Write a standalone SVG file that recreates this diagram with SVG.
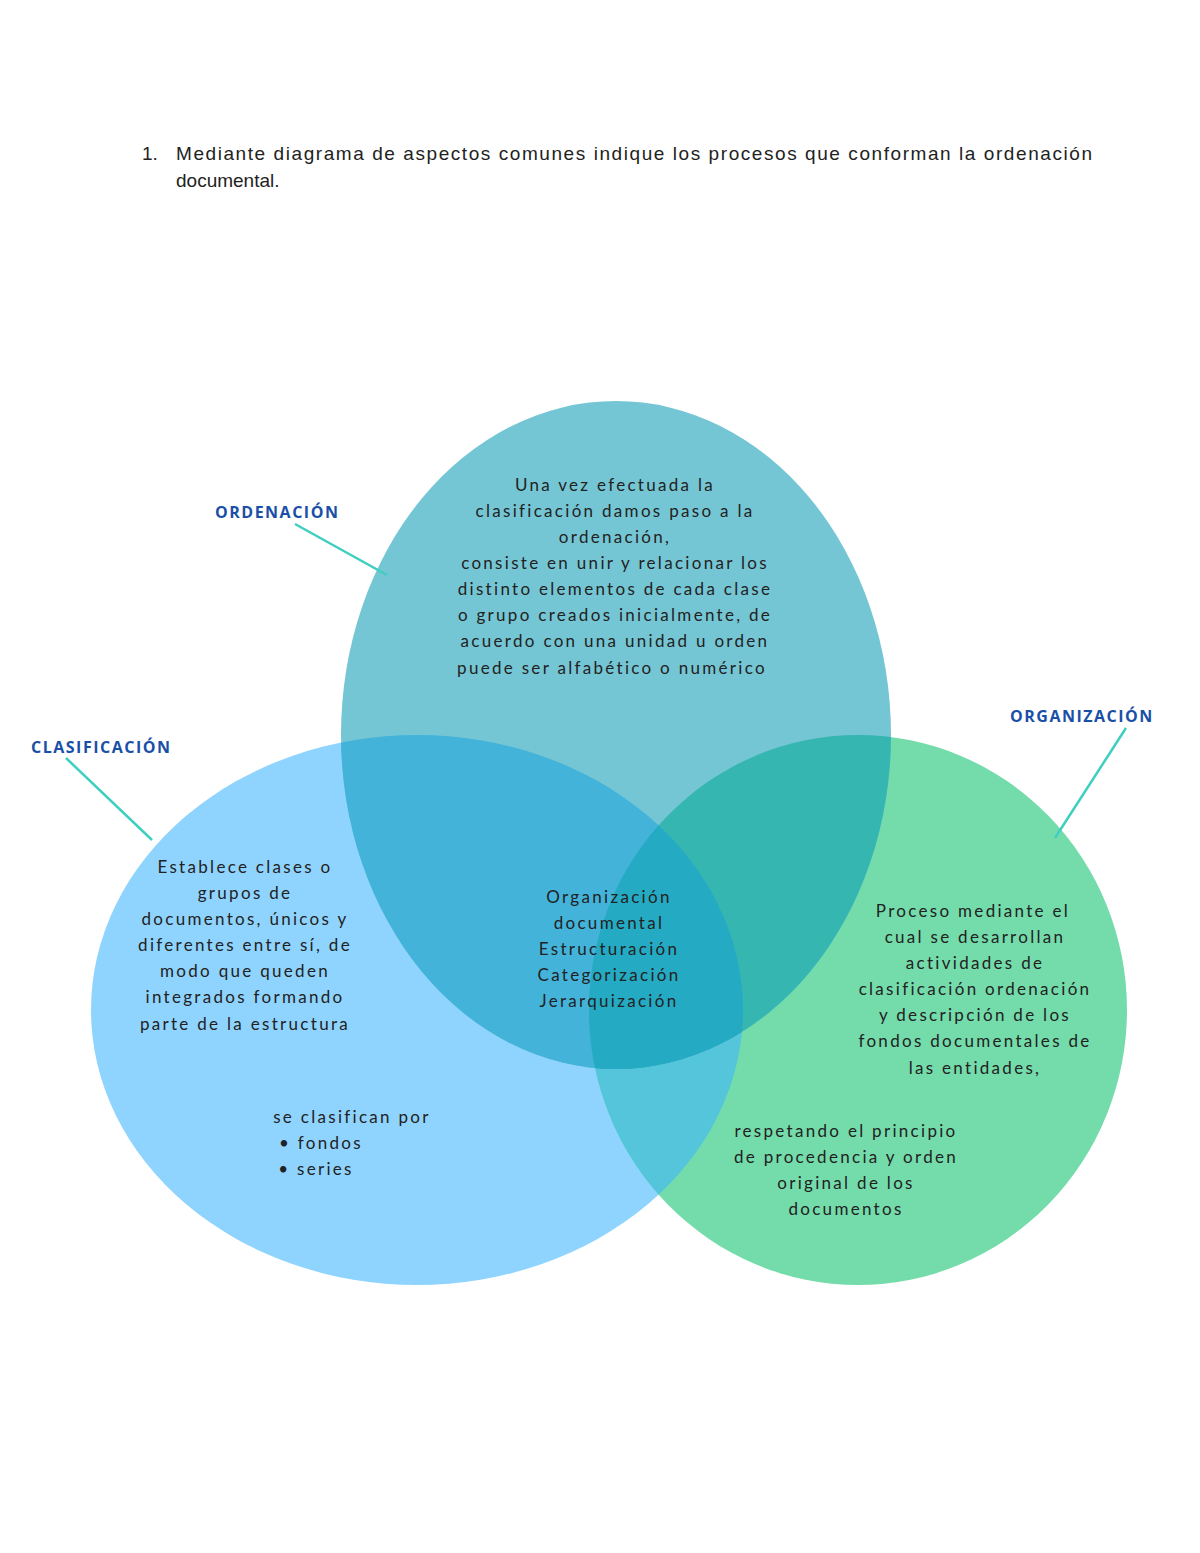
<svg xmlns="http://www.w3.org/2000/svg" width="1200" height="1553" viewBox="0 0 1200 1553">
<style>
.h{font-family:"Liberation Sans",Arial,sans-serif;font-size:19px;fill:#222}
.t{font-family:Lato,"Open Sans",sans-serif;font-size:17px;fill:#222;letter-spacing:2.3px;text-anchor:middle}
.lb{font-family:"Open Sans",Lato,sans-serif;font-size:16px;font-weight:bold;fill:#1a4fa8;letter-spacing:1.5px}
.ln{stroke:#3ecfc0;stroke-width:2.5;fill:none}
</style>
<defs>
<clipPath id="bot"><rect x="0" y="0" width="1200" height="1285"/></clipPath>
<clipPath id="cL"><ellipse cx="417" cy="1010" rx="326" ry="275"/></clipPath>
<clipPath id="cR"><ellipse cx="858" cy="1010" rx="269" ry="275"/></clipPath>
<clipPath id="cT"><ellipse cx="616" cy="735" rx="275" ry="334"/></clipPath>
</defs>
<text class="h" x="142" y="160">1.</text>
<text class="h" x="176" y="160" textLength="916" lengthAdjust="spacing">Mediante diagrama de aspectos comunes indique los procesos que conforman la ordenación</text>
<text class="h" x="176" y="187">documental.</text>
<g id="venn" clip-path="url(#bot)">
<ellipse id="left" cx="417" cy="1010" rx="326" ry="275" fill="#8fd4fe"/>
<ellipse id="right" cx="858" cy="1010" rx="269" ry="275" fill="#74dcab"/>
<ellipse id="top" cx="616" cy="735" rx="275" ry="334" fill="#75c6d4"/>
<g clip-path="url(#cL)"><ellipse cx="858" cy="1010" rx="269" ry="275" fill="#54c5da"/></g>
<g clip-path="url(#cL)"><ellipse cx="616" cy="735" rx="275" ry="334" fill="#43b3da"/></g>
<g clip-path="url(#cR)"><ellipse cx="616" cy="735" rx="275" ry="334" fill="#36b6b1"/></g>
<g clip-path="url(#cL)"><g clip-path="url(#cR)"><ellipse cx="616" cy="735" rx="275" ry="334" fill="#25aac4"/></g></g>
</g>
<g id="connectors">
<line class="ln" x1="295" y1="524" x2="387" y2="575"/>
<line class="ln" x1="66" y1="758" x2="152" y2="840"/>
<line class="ln" x1="1126" y1="728" x2="1055" y2="838"/>
</g>
<g id="labels">
<text class="lb" x="215" y="518">ORDENACIÓN</text>
<text class="lb" x="31" y="753">CLASIFICACIÓN</text>
<text class="lb" x="1010" y="722">ORGANIZACIÓN</text>
</g>
<g id="top-text">
<text class="t" x="615" y="491">Una vez efectuada la</text>
<text class="t" x="615" y="517">clasificación damos paso a la</text>
<text class="t" x="615" y="543">ordenación,</text>
<text class="t" x="615" y="569">consiste en unir y relacionar los</text>
<text class="t" x="615" y="595">distinto elementos de cada clase</text>
<text class="t" x="615" y="621">o grupo creados inicialmente, de</text>
<text class="t" x="615" y="647">acuerdo con una unidad u orden</text>
<text class="t" x="612" y="674">puede ser alfabético o numérico</text>
</g>
<g id="left-text">
<text class="t" x="245" y="873">Establece clases o</text>
<text class="t" x="245" y="899">grupos de</text>
<text class="t" x="245" y="925">documentos, únicos y</text>
<text class="t" x="245" y="951">diferentes entre sí, de</text>
<text class="t" x="245" y="977">modo que queden</text>
<text class="t" x="245" y="1003">integrados formando</text>
<text class="t" x="245" y="1030">parte de la estructura</text>
<text class="t" x="352" y="1123">se clasifican por</text>
<text class="t" x="321" y="1149">•  fondos</text>
<text class="t" x="316" y="1175">•  series</text>
</g>
<g id="center-text">
<text class="t" x="609" y="903">Organización</text>
<text class="t" x="609" y="929">documental</text>
<text class="t" x="609" y="955">Estructuración</text>
<text class="t" x="609" y="981">Categorización</text>
<text class="t" x="609" y="1007">Jerarquización</text>
</g>
<g id="right-text">
<text class="t" x="973" y="917">Proceso mediante el</text>
<text class="t" x="975" y="943">cual se desarrollan</text>
<text class="t" x="975" y="969">actividades de</text>
<text class="t" x="975" y="995">clasificación ordenación</text>
<text class="t" x="975" y="1021">y descripción de los</text>
<text class="t" x="975" y="1047">fondos documentales de</text>
<text class="t" x="975" y="1074">las entidades,</text>
<text class="t" x="846" y="1137">respetando el principio</text>
<text class="t" x="846" y="1163">de procedencia y orden</text>
<text class="t" x="846" y="1189">original de los</text>
<text class="t" x="846" y="1215">documentos</text>
</g>
</svg>
